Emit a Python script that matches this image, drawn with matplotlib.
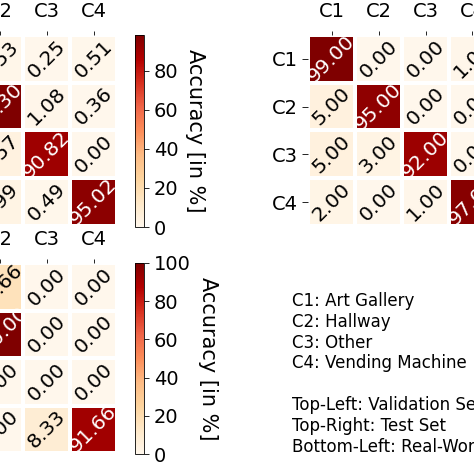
import matplotlib
matplotlib.use('Agg')
import matplotlib.pyplot as plt
from matplotlib.ticker import MultipleLocator
import numpy as np

# class labels
classes = ['C1', 'C2', 'C3', 'C4']

# confusion matrices in % (rows: true, cols: predicted)
val_cm = np.array([[97.71, 1.53, 0.25, 0.51],
                   [0.26, 98.30, 1.08, 0.36],
                   [4.61, 4.57, 90.82, 0.00],
                   [1.50, 2.99, 0.49, 95.02]])

test_cm = np.array([[99.00, 0.00, 0.00, 1.00],
                    [5.00, 95.00, 0.00, 0.00],
                    [5.00, 3.00, 92.00, 0.00],
                    [2.00, 0.00, 1.00, 97.00]])

real_cm = np.array([[83.33, 16.66, 0.00, 0.00],
                    [0.00, 100.00, 0.00, 0.00],
                    [100.00, 0.00, 0.00, 0.00],
                    [0.00, 0.00, 8.33, 91.66]])

legend_lines = ['C1: Art Gallery', 'C2: Hallway', 'C3: Other', 'C4: Vending Machine',
                '', 'Top-Left: Validation Set', 'Top-Right: Test Set',
                'Bottom-Left: Real-World Set']

W = 474.0


def box(x0, y0, x1, y1):
    # pixel box (top-left origin) -> figure fraction rect
    return [x0 / W, 1 - y1 / W, (x1 - x0) / W, (y1 - y0) / W]


def draw_cm(ax, cm):
    mesh = ax.pcolormesh(cm, cmap='OrRd', vmin=0, vmax=cm.max(),
                         edgecolors='white', linewidth=1.5)
    ax.set_xlim(0, 4)
    ax.set_ylim(4, 0)
    ax.xaxis.tick_top()
    ax.set_xticks(np.arange(4) + 0.5)
    ax.set_yticks(np.arange(4) + 0.5)
    ax.set_xticklabels(classes, fontsize=14)
    ax.set_yticklabels(classes, fontsize=14, rotation=0)
    ax.tick_params(axis='x', length=3, width=0.6, pad=7)
    ax.tick_params(axis='y', length=4, width=0.6, pad=3)
    for s in ax.spines.values():
        s.set_visible(False)
    for i in range(4):
        for j in range(4):
            v = cm[i, j]
            col = 'white' if v > cm.max() / 2 else 'black'
            ax.text(j + 0.5, i + 0.5, '%.2f' % v, ha='center', va='center',
                    rotation=45, fontsize=14.5, color=col)
    return mesh


def draw_cbar(fig, mesh, rect):
    cax = fig.add_axes(rect)
    cb = fig.colorbar(mesh, cax=cax)
    cb.locator = MultipleLocator(20)
    cb.update_ticks()
    cb.ax.tick_params(labelsize=14, length=3.5, width=0.6)
    cb.outline.set_linewidth(0.6)
    cb.set_label('Accuracy [in %]', rotation=270, fontsize=15, labelpad=5, va='bottom')
    return cb


fig = plt.figure(figsize=(4.74, 4.74), dpi=100)

ax1 = fig.add_axes(box(-71, 35, 117, 226))
m1 = draw_cm(ax1, val_cm)
draw_cbar(fig, m1, box(135, 35, 144, 227))

ax2 = fig.add_axes(box(308, 35, 496, 226))
m2 = draw_cm(ax2, test_cm)

ax3 = fig.add_axes(box(-71, 263, 117, 453))
m3 = draw_cm(ax3, real_cm)
draw_cbar(fig, m3, box(135, 263, 144, 454))

fig.text(292 / W, 1 - 292 / W, '\n'.join(legend_lines), fontsize=12,
         ha='left', va='top', linespacing=1.2)

plt.savefig('out.png', dpi=100)
